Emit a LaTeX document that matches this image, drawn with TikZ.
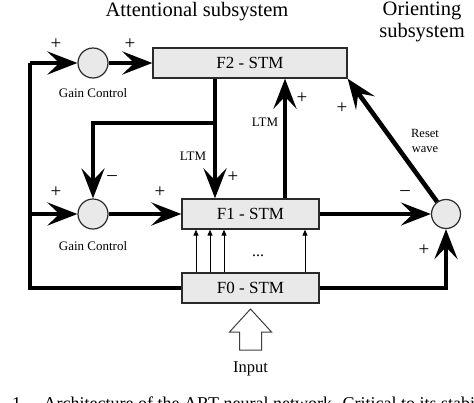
\documentclass[tikz,border=0pt]{standalone}
\usepackage{fontspec}
\setmainfont{Liberation Serif}
\usetikzlibrary{arrows.meta}
\definecolor{boxfill}{HTML}{E9E9E9}
\definecolor{boxline}{HTML}{2A2A2A}
\tikzset{
  bigtip/.tip={Stealth[length=30pt,width=23pt,inset=12pt]},
  thickline/.style={line width=4.6pt, -{bigtip}},
  plainthick/.style={line width=4.6pt},
  thinarrow/.style={line width=1pt, -{Triangle[length=6pt,width=5pt]}},
  stmbox/.style={draw=boxline, fill=boxfill, line width=1.3pt, minimum height=30pt, inner sep=0pt, font=\fontsize{17}{19}\selectfont},
  gain/.style={circle, draw=boxline, fill=boxfill, line width=1.2pt, minimum size=30pt, inner sep=0pt},
  sign/.style={font=\fontsize{19}{20}\selectfont, inner sep=0pt},
  smalllbl/.style={font=\fontsize{13}{17}\selectfont, inner sep=0pt, align=center},
  title/.style={font=\fontsize{20.5}{22}\selectfont, inner sep=0pt, align=center},
}
\begin{document}
\begin{tikzpicture}[x=1pt,y=-1pt]
\useasboundingbox (0,0) rectangle (474,402);
\clip (0,0) rectangle (474,402);
\fill[white] (0,0) rectangle (474,402);

% titles
\node[title, anchor=base] (tatt) at (197,16) {Attentional subsystem};
\node[title, anchor=base] (tor1) at (422,15) {Orienting};
\node[title, anchor=base] (tor2) at (422,37) {subsystem};

% boxes
\node[stmbox, minimum width=194pt] (f2) at (250,63) {F2 - STM};
\node[stmbox, minimum width=137pt] (f1) at (250.5,214) {F1 - STM};
\node[stmbox, minimum width=137pt] (f0) at (250.5,288) {F0 - STM};

% circles
\node[gain] (g1) at (93,63) {};
\node[gain] (g2) at (93,214) {};
\node[gain, minimum size=29pt] (orc) at (446,214) {};

% gain control labels
\node[smalllbl] (gl1) at (93,93) {Gain Control};
\node[smalllbl] (gl2) at (93,246) {Gain Control};

% left feedback loop
\coordinate (lb) at (30,288);
\coordinate (lt) at (30,63);
\coordinate (lm) at (30,214);
\draw[plainthick, line join=miter] (f0.west) -- (lb) -- (lt);
\draw[thickline] (lt) -- (g1.west);
\draw[thickline] (lm) -- (g2.west);

% circles to boxes
\draw[thickline] (g1.east) -- (f2.west);
\draw[thickline] (g2.east) -- (f1.west);

% F2 down to F1 and to lower gain control
\coordinate (dx) at (215,123);
\draw[thickline] (f2.south -| dx) -- (f1.north -| dx);
\draw[thickline, line join=miter] (dx) -| (g2.north);

% F1 up to F2 (LTM)
\coordinate (ux) at (285,150);
\draw[thickline] (f1.north -| ux) -- (f2.south -| ux);

% to orienting subsystem
\draw[thickline] (f1.east) -- (orc.west);
\draw[thickline, line join=miter] (f0.east) -| (orc.south);
\draw[thickline] (orc) -- (f2.south east);

% thin arrows F0 -> F1
\foreach \xx/\nm in {196/a,210/b,224/c,305/d}{
  \coordinate (t\nm) at (\xx,250);
  \draw[thinarrow] (f0.north -| t\nm) -- (f1.south -| t\nm);
}
\node[font=\fontsize{16}{18}\selectfont, inner sep=0pt, anchor=base] (dots) at (258,256) {...};

% input arrow
\draw[draw=black!75, line width=1pt, fill=white, line join=miter]
  (239.5,350) -- (239.5,332) -- (229.5,332) -- (250.5,309) -- (271.5,332) -- (261.5,332) -- (261.5,350) -- cycle;
\node[font=\fontsize{16.5}{18}\selectfont, inner sep=0pt] (inp) at (250.5,369) {Input};

% LTM labels
\node[smalllbl] (ltm1) at (193,156) {LTM};
\node[smalllbl] (ltm2) at (265,122) {LTM};
\node[smalllbl, font=\fontsize{12.5}{15}\selectfont] (rw) at (425,141) {Reset\\wave};

% signs
\node[sign] (p1) at (56,44) {+};
\node[sign] (p2) at (130,44) {+};
\node[sign] (p3) at (56,192) {+};
\node[sign] (p4) at (160,192) {+};
\node[sign] (m1) at (112,178) {–};
\node[sign] (p5) at (233,177) {+};
\node[sign] (p6) at (302,98) {+};
\node[sign] (p7) at (342,108) {+};
\node[sign] (m2) at (405,193) {–};
\node[sign] (p8) at (424,250) {+};

% clipped caption
\node[font=\fontsize{18}{20}\selectfont, inner sep=0pt, anchor=base west] (cap) at (12,409) {1.\quad Architecture of the ART neural network. Critical to its stability};
\end{tikzpicture}
\end{document}
